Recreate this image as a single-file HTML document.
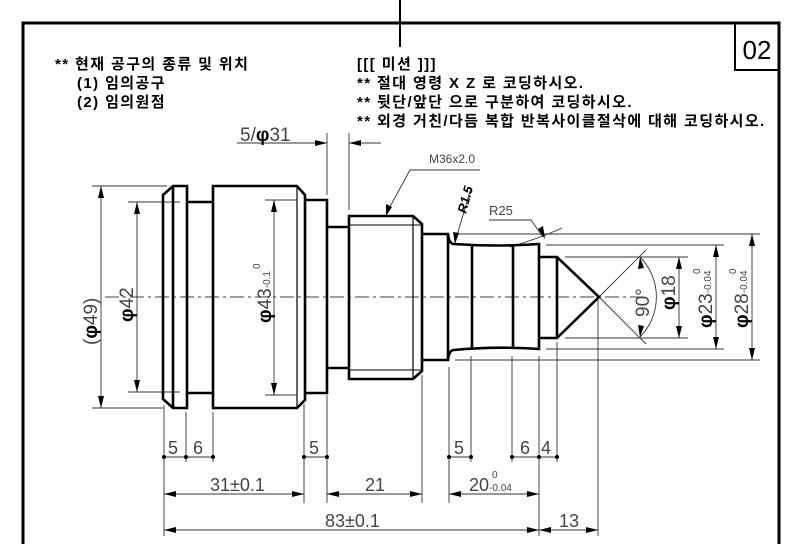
<!DOCTYPE html>
<html><head><meta charset="utf-8"><style>
html,body{margin:0;padding:0;background:#fff;}
svg{display:block}
.k{font-family:"Liberation Sans","Noto Sans CJK KR","NanumGothic",sans-serif;font-size:15px;letter-spacing:1.4px;font-weight:bold;fill:#000}
.d{font-family:"Liberation Sans",sans-serif;fill:#444}
</style></head><body>
<svg width="800" height="544" viewBox="0 0 800 544" xmlns="http://www.w3.org/2000/svg">
<defs>
<marker id="a" viewBox="0 0 12 6" refX="12" refY="3" markerWidth="13" markerHeight="6" orient="auto-start-reverse" markerUnits="userSpaceOnUse"><path d="M0,0 L12,3 L0,6 z" fill="#000"/></marker>
</defs>
<path d="M23,544 V23 H779 V544" fill="none" stroke="#000" stroke-width="3"/>
<rect x="735" y="23" width="44" height="47" fill="none" stroke="#000" stroke-width="2"/>
<text x="757" y="59" text-anchor="middle" font-family="Liberation Sans,sans-serif" font-size="26" fill="#000">02</text>
<line x1="400" y1="0" x2="400" y2="47" stroke="#000" stroke-width="2"/>
<text class="k" x="55" y="69">** 현재 공구의 종류 및 위치</text>
<text class="k" x="77" y="88">(1) 임의공구</text>
<text class="k" x="77" y="107">(2) 임의원점</text>
<text class="k" x="357" y="69">[[[ 미션 ]]]</text>
<text class="k" x="357" y="88">** 절대 영령 X Z 로 코딩하시오.</text>
<text class="k" x="357" y="107">** 뒷단/앞단 으로 구분하여 코딩하시오.</text>
<text class="k" x="357" y="126">** 외경 거친/다듬 복합 반복사이클절삭에 대해 코딩하시오.</text>

<line x1="105" y1="297" x2="645" y2="297" stroke="#000" stroke-width="0.8" stroke-dasharray="14,4,3,4"/>

<g stroke="#333" stroke-width="0.9" fill="none">
<line x1="92" y1="186" x2="167" y2="186"/><line x1="92" y1="408" x2="163" y2="408"/>
<line x1="128" y1="202" x2="180" y2="202"/><line x1="128" y1="392" x2="180" y2="392"/>
<line x1="265" y1="200" x2="297" y2="200"/><line x1="265" y1="395" x2="297" y2="395"/>
<line x1="455" y1="234" x2="760" y2="234"/><line x1="455" y1="360" x2="760" y2="360"/>
<line x1="546" y1="245" x2="724" y2="245"/><line x1="546" y1="349" x2="724" y2="349"/>
<line x1="565" y1="257" x2="688" y2="257"/><line x1="565" y1="338" x2="688" y2="338"/>
<line x1="599" y1="297" x2="646" y2="250"/><line x1="599" y1="297" x2="646" y2="344"/>
<path d="M640,257 A57,57 0 0 1 640,337"/>
<line x1="164" y1="405" x2="164" y2="536"/>
<line x1="186" y1="412" x2="186" y2="462"/>
<line x1="213" y1="412" x2="213" y2="462"/>
<line x1="304" y1="404" x2="304" y2="503"/>
<line x1="327" y1="395" x2="327" y2="503"/>
<line x1="422" y1="375" x2="422" y2="503"/>
<line x1="449" y1="367" x2="449" y2="503"/>
<line x1="471" y1="356" x2="471" y2="462"/>
<line x1="512" y1="356" x2="512" y2="462"/>
<line x1="539" y1="356" x2="539" y2="536"/>
<line x1="557" y1="342" x2="557" y2="462"/>
<line x1="598" y1="300" x2="598" y2="536"/>
<line x1="327" y1="133" x2="327" y2="195"/><line x1="349" y1="133" x2="349" y2="210"/>
<line x1="237" y1="143" x2="327" y2="143" marker-end="url(#a)"/>
<line x1="381" y1="143" x2="349" y2="143" marker-end="url(#a)"/>
<polyline points="480,170 410,170 386,214"/>
<line x1="471" y1="188" x2="455" y2="242"/>
<polyline points="489,220 531,220 543,237"/>
<path d="M510,247 Q540,238 562,228"/>
<line x1="101" y1="186" x2="101" y2="408" marker-start="url(#a)" marker-end="url(#a)"/>
<line x1="137" y1="202" x2="137" y2="392" marker-start="url(#a)" marker-end="url(#a)"/>
<line x1="274" y1="200" x2="274" y2="395" marker-start="url(#a)" marker-end="url(#a)"/>
<line x1="679" y1="257" x2="679" y2="338" marker-start="url(#a)" marker-end="url(#a)"/>
<line x1="716" y1="245" x2="716" y2="349" marker-start="url(#a)" marker-end="url(#a)"/>
<line x1="752" y1="234" x2="752" y2="360" marker-start="url(#a)" marker-end="url(#a)"/>
<line x1="164" y1="457" x2="213" y2="457"/>
<line x1="304" y1="457" x2="327" y2="457"/>
<line x1="449" y1="457" x2="471" y2="457"/>
<line x1="512" y1="457" x2="557" y2="457"/>
<line x1="164" y1="494" x2="304" y2="494" marker-start="url(#a)" marker-end="url(#a)"/>
<line x1="327" y1="494" x2="422" y2="494" marker-start="url(#a)" marker-end="url(#a)"/>
<line x1="449" y1="494" x2="539" y2="494" marker-start="url(#a)" marker-end="url(#a)"/>
<line x1="164" y1="530" x2="539" y2="530" marker-start="url(#a)" marker-end="url(#a)"/>
<line x1="539" y1="530" x2="598" y2="530" marker-start="url(#a)" marker-end="url(#a)"/>
</g>
<path d="M386,216 l0,-12 l6,3 z" fill="#000"/>
<path d="M455,244 l-2,-12 l6,1 z" fill="#000"/>
<path d="M545,239 l-7,-10 l5,-3 z" fill="#000"/>
<path d="M640,257 l4,11 l-6,1 z" fill="#000"/>
<path d="M640,337 l4,-11 l-6,-1 z" fill="#000"/>
<g fill="#000"><circle cx="164" cy="457" r="2"/><circle cx="186" cy="457" r="2"/><circle cx="213" cy="457" r="2"/><circle cx="304" cy="457" r="2"/><circle cx="327" cy="457" r="2"/><circle cx="449" cy="457" r="2"/><circle cx="471" cy="457" r="2"/><circle cx="512" cy="457" r="2"/><circle cx="539" cy="457" r="2"/><circle cx="557" cy="457" r="2"/></g>

<g stroke="#000" stroke-width="2.6" fill="none" stroke-linejoin="miter">
<polygon points="163,195 173,186 187,186 187,408 173,408 163,399"/>
<line x1="173" y1="186" x2="173" y2="408"/>
<line x1="187" y1="202" x2="213" y2="202"/><line x1="187" y1="393" x2="213" y2="393"/>
<polygon points="213,186 297,186 305,195 305,400 297,408 213,408"/>
<line x1="297" y1="186" x2="297" y2="408" stroke-width="1.2"/>
<polyline points="305,200 327,200 327,393 305,393"/>
<line x1="327" y1="227" x2="349" y2="227"/><line x1="327" y1="368" x2="349" y2="368"/>
<polygon points="349,216 413,216 422,224 422,371 413,379 349,379"/>
<line x1="413" y1="216" x2="413" y2="379" stroke-width="1.2"/>
<line x1="349" y1="225" x2="422" y2="225" stroke-width="1"/>
<line x1="349" y1="370" x2="422" y2="370" stroke-width="1"/>
<polyline points="422,234 448,234 448,360 422,360"/>
<path d="M448,234 Q449,244 454,244 Q496,247 539,244 L539,349 Q496,346 454,350 Q449,350 448,360"/>
<line x1="472" y1="245" x2="472" y2="349"/>
<line x1="513" y1="245" x2="513" y2="349"/>
<polyline points="539,257 557,257 599,297 557,338 539,338"/>
<line x1="557" y1="257" x2="557" y2="338"/>
</g>

<g class="d">
<text x="240" y="141" font-size="19">5/<tspan font-weight="bold" fill="#000">φ</tspan>31</text>
<text x="429" y="163" font-size="12">M36x2.0</text>
<text x="489" y="215" font-size="13">R25</text>
<text transform="translate(466,214) rotate(-75)" font-size="13" font-weight="bold" fill="#000" font-style="italic">R1.5</text>
<text transform="translate(97,345) rotate(-90)" font-size="19">(<tspan fill="#000" font-weight="bold">φ</tspan>49)</text>
<text transform="translate(133,322) rotate(-90)" font-size="19"><tspan fill="#000" font-weight="bold">φ</tspan>42</text>
<text transform="translate(271,323) rotate(-90)" font-size="19"><tspan fill="#000" font-weight="bold">φ</tspan>43<tspan font-size="10" dy="-1">-0.1</tspan></text>
<text transform="translate(260,269) rotate(-90)" font-size="10">0</text>
<text transform="translate(649,317) rotate(-90)" font-size="19">90°</text>
<text transform="translate(675,310) rotate(-90)" font-size="19"><tspan fill="#000" font-weight="bold">φ</tspan>18</text>
<text transform="translate(712,328) rotate(-90)" font-size="19"><tspan fill="#000" font-weight="bold">φ</tspan>23<tspan font-size="10" dy="-1">-0.04</tspan></text>
<text transform="translate(700,274) rotate(-90)" font-size="10">0</text>
<text transform="translate(748,328) rotate(-90)" font-size="19"><tspan fill="#000" font-weight="bold">φ</tspan>28<tspan font-size="10" dy="-1">-0.04</tspan></text>
<text transform="translate(736,274) rotate(-90)" font-size="10">0</text>
<text x="168" y="454" font-size="18">5</text>
<text x="193" y="454" font-size="18">6</text>
<text x="309" y="454" font-size="18">5</text>
<text x="454" y="454" font-size="18">5</text>
<text x="520" y="454" font-size="18">6</text>
<text x="541" y="454" font-size="18">4</text>
<text x="210" y="491" font-size="18">31±0.1</text>
<text x="365" y="491" font-size="18">21</text>
<text x="469" y="491" font-size="18">20<tspan font-size="10">-0.04</tspan></text>
<text x="492" y="478" font-size="10">0</text>
<text x="325" y="527" font-size="18">83±0.1</text>
<text x="559" y="527" font-size="18">13</text>
</g>
</svg>
</body></html>
